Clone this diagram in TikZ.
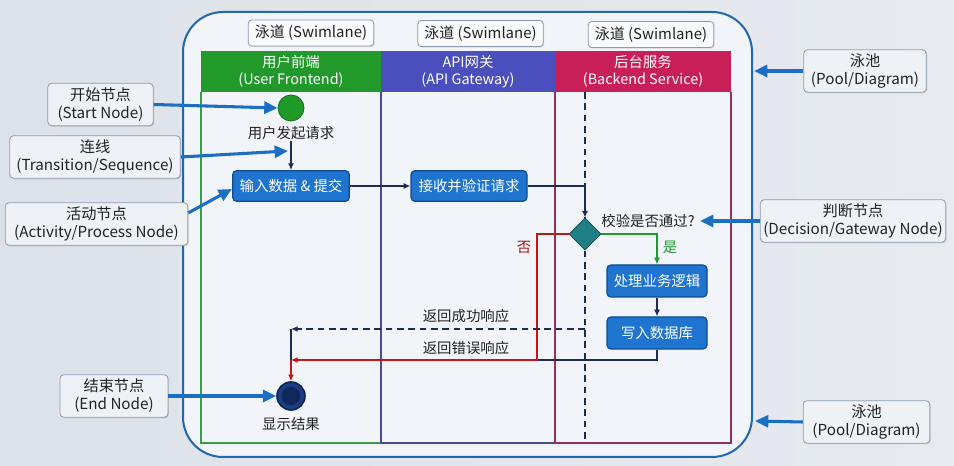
\documentclass[tikz,border=0pt]{standalone}
\usepackage{fontspec}
\setmainfont{Noto Sans CJK SC}
\usetikzlibrary{arrows.meta,shapes.geometric,shadows}
\definecolor{bgL}{HTML}{DCE2E9}
\definecolor{bgR}{HTML}{E7EBF0}
\definecolor{poolfill}{HTML}{F1F4F8}
\definecolor{poolline}{HTML}{2166B0}
\definecolor{annoblue}{HTML}{1A6FC4}
\definecolor{annofill}{HTML}{EEF2F6}
\definecolor{annoline}{HTML}{8C9BB0}
\definecolor{txt}{HTML}{222222}
\definecolor{hgreen}{HTML}{22992B}
\definecolor{hblue}{HTML}{4B4FBE}
\definecolor{hred}{HTML}{C81F59}
\definecolor{lgreen}{HTML}{3E9A48}
\definecolor{lblue}{HTML}{4A4C8E}
\definecolor{lred}{HTML}{9C2C5C}
\definecolor{actfill}{HTML}{1F74CF}
\definecolor{actline}{HTML}{0E4A8F}
\definecolor{navy}{HTML}{1E2B55}
\definecolor{flowred}{HTML}{C01818}
\definecolor{flowgreen}{HTML}{22992B}
\definecolor{dteal}{HTML}{1E7F86}
\definecolor{startg}{HTML}{1E9A26}
\definecolor{endfill}{HTML}{1B3D82}
\definecolor{enddark}{HTML}{0E2454}
\newcommand\myannofont{\fontsize{11.4}{13.6}\selectfont}
\newcommand\myhdrfont{\fontsize{10.8}{12.8}\selectfont}
\newcommand\mytxtfont{\fontsize{10.8}{12.5}\selectfont}
\newcommand\mytagfont{\fontsize{11.2}{13}\selectfont}
\begin{document}
\begin{tikzpicture}[x=0.75pt,y=-0.75pt,
  anno/.style={draw=annoline, fill=annofill, rounded corners=3pt, align=center,
    font=\myannofont, text=txt, minimum height=32pt, inner sep=1pt, line width=0.6pt,
    drop shadow={opacity=0.25, shadow xshift=0.8pt, shadow yshift=-0.8pt}},
  lanetag/.style={draw=annoline, fill=white!60!annofill, rounded corners=2.5pt,
    font=\mytagfont, text=txt, minimum height=19.5pt, minimum width=94pt, inner sep=1pt,
    line width=0.6pt, drop shadow={opacity=0.2, shadow xshift=0.8pt, shadow yshift=-0.8pt}},
  hdr/.style={align=center, font=\myhdrfont, text=white},
  act/.style={draw=actline, fill=actfill, rounded corners=3pt, text=white,
    font=\mytxtfont, minimum height=23pt, inner sep=1pt, line width=0.9pt},
  lbl/.style={font=\mytxtfont, text=txt, inner sep=1pt},
  annoarrow/.style={draw=annoblue, line width=2.3pt, -{Triangle[length=10pt,width=9pt]}},
  flow/.style={draw=navy, line width=1pt, -{Latex[length=5pt,width=4.5pt]}},
  flowr/.style={draw=flowred, line width=1.1pt, -{Latex[length=5pt,width=4.5pt]}},
  flowg/.style={draw=flowgreen, line width=1.1pt, -{Latex[length=5pt,width=4.5pt]}},
  navyline/.style={draw=navy, line width=1pt},
  dashln/.style={dash pattern=on 5pt off 3.5pt}
]
% background
\useasboundingbox (0,0) rectangle (954,466);
\fill[left color=bgL, right color=bgR] (0,0) rectangle (954,466);

% pool
\draw[poolline, fill=poolfill, line width=1.5pt, rounded corners=30pt] (183,12) rectangle (752,457);

% lane headers
\fill[hgreen] (201,51) rectangle (381,92);
\fill[hblue] (381,51) rectangle (555,92);
\fill[hred] (555,51) rectangle (731,92);
\node[hdr] (h1) at (291,71.5) {用户前端\\(User Frontend)};
\node[hdr] (h2) at (468,71.5) {API网关\\(API Gateway)};
\node[hdr] (h3) at (643,71.5) {后台服务\\(Backend Service)};

% lane bodies
\draw[lgreen, line width=1.1pt] (201,92) -- (201,443) -- (381,443);
\draw[lblue, line width=1.1pt] (381,92) -- (381,443) -- (555,443);
\draw[lred, line width=1.1pt] (555,92) -- (555,443) -- (731,443) -- (731,92);

% swimlane tags
\node[lanetag] (t1) at (311,33) {泳道 (Swimlane)};
\node[lanetag] (t2) at (480.5,33.5) {泳道 (Swimlane)};
\node[lanetag] (t3) at (651,34.5) {泳道 (Swimlane)};

% lifeline
\coordinate (lifetop) at (585,92);
\coordinate (lifebot) at (585,443);
\draw[navy, line width=1pt, dashln] (lifetop) -- (lifebot);

% flow nodes
\node[circle, fill=startg, draw=startg!70!black, line width=0.6pt, minimum size=19.5pt, inner sep=0pt] (start) at (291,108) {};
\node[lbl] (startlbl) at (291,133) {用户发起请求};
\node[act, minimum width=87.5pt] (input) at (291,186) {输入数据 \& 提交};
\node[act, minimum width=87pt] (recv) at (469,186) {接收并验证请求};
\node[diamond, shape aspect=1, fill=dteal, draw=dteal!60!black, line width=0.6pt, minimum size=24pt, inner sep=0pt] (dec) at (585,234) {};
\node[lbl] (declbl) at (648,221) {校验是否通过?};
\node[act, minimum width=75pt, minimum height=24pt] (proc) at (657,281) {处理业务逻辑};
\node[act, minimum width=75pt, minimum height=24pt] (write) at (657,333) {写入数据库};
\node[circle, fill=endfill, draw=enddark, line width=1.2pt, minimum size=21pt, inner sep=0pt] (end) at (291,396) {};
\node[circle, fill=enddark!85!endfill, minimum size=14pt, inner sep=0pt] (endcore) at (end) {};
\node[lbl] (endlbl) at (291,424) {显示结果};
\node[lbl, text=flowgreen] (yes) at (670,247) {是};
\node[lbl, text=flowred!85!black] (no) at (524,247) {否};
\node[lbl] (succlbl) at (466,316) {返回成功响应};
\node[lbl] (errlbl) at (466,348) {返回错误响应};

% connectors
\draw[flow] (startlbl.south) -- (startlbl.south |- input.north);
\draw[flow] (input.east) -- (recv.west);
\draw[flow] (recv.east) -| (dec.north);
\draw[flowg] (dec.east) -| (proc.north);
\draw[flow] (proc.south) -- (write.north);
\coordinate (merge) at (537,360);
\coordinate (errc) at (291,360);
\coordinate (succs) at (585,329);
\coordinate (succc) at (291,329);
\draw[navyline] (write.south) |- (merge);
\draw[flowr] (dec.west) -| (merge) -- (errc);
\draw[flow, dashln] (succs) -- (succc);
\draw[navyline] (succc) -- (errc);
\draw[flowr] (errc) -- (end.north);

% annotations
\node[anno, minimum width=79pt] (aStart) at (100.5,104.5) {开始节点\\(Start Node)};
\node[anno, minimum width=128pt] (aTrans) at (95,157) {连线\\(Transition/Sequence)};
\node[anno, minimum width=137pt] (aAct) at (96.5,224) {活动节点\\(Activity/Process Node)};
\node[anno, minimum width=81pt] (aEnd) at (114,396) {结束节点\\(End Node)};
\node[anno, minimum width=92pt] (aPool1) at (865,71) {泳池\\(Pool/Diagram)};
\node[anno, minimum width=139pt] (aDec) at (853,221) {判断节点\\(Decision/Gateway Node)};
\node[anno, minimum width=95pt] (aPool2) at (866.5,422) {泳池\\(Pool/Diagram)};

\coordinate (transtip) at (288,151);
\coordinate (acttip) at (232,189);
\coordinate (pooltip1) at (754,71);
\coordinate (dectip) at (700,221);
\coordinate (pooltip2) at (755,421);

\draw[annoarrow] (aStart.east) -- (start.west);
\draw[annoarrow] (aTrans.east) -- (transtip);
\draw[annoarrow] ([yshift=-8pt]aAct.north east) -- (acttip);
\draw[annoarrow] (aEnd.east) -- (end.west);
\draw[annoarrow] (aPool1.west) -- (pooltip1);
\draw[annoarrow] (aDec.west) -- (dectip);
\draw[annoarrow] (aPool2.west) -- (pooltip2);
\end{tikzpicture}
\end{document}
